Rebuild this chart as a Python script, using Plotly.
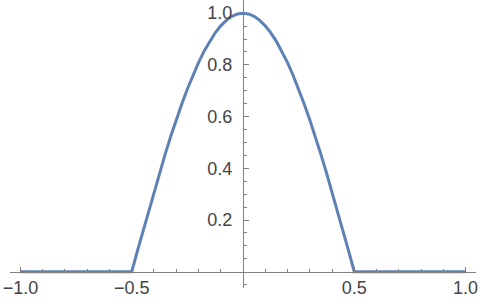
import plotly.graph_objects as go

# Data
x_vals = [-1.0, -0.5, -0.475, -0.45, -0.425, -0.4, -0.375, -0.35, -0.325, -0.3, -0.275,
          -0.25, -0.225, -0.2, -0.175, -0.15, -0.125, -0.1, -0.075, -0.05, -0.025, 0.0,
          0.025, 0.05, 0.075, 0.1, 0.125, 0.15, 0.175, 0.2, 0.225, 0.25, 0.275, 0.3,
          0.325, 0.35, 0.375, 0.4, 0.425, 0.45, 0.475, 0.5, 1.0]
y_vals = [0.0, 0.0, 0.079, 0.156, 0.233, 0.309, 0.383, 0.454, 0.523, 0.588, 0.649,
          0.707, 0.760, 0.809, 0.853, 0.891, 0.924, 0.951, 0.972, 0.988, 0.997, 1.0,
          0.997, 0.988, 0.972, 0.951, 0.924, 0.891, 0.853, 0.809, 0.760, 0.707, 0.649, 0.588,
          0.523, 0.454, 0.383, 0.309, 0.233, 0.156, 0.079, 0.0, 0.0]

x_major = [-1.0, -0.5, 0.5, 1.0]
x_major_labels = ["\u22121.0", "\u22120.5", "0.5", "1.0"]
x_minor = [-0.9, -0.8, -0.7, -0.6, -0.4, -0.3, -0.2, -0.1, 0.1, 0.2, 0.3, 0.4,
           0.6, 0.7, 0.8, 0.9]
y_major = [0.2, 0.4, 0.6, 0.8, 1.0]
y_major_labels = ["0.2", "0.4", "0.6", "0.8", "1.0"]
y_minor = [-0.05, 0.05, 0.1, 0.15, 0.25, 0.3, 0.35, 0.45, 0.5, 0.55, 0.65, 0.7,
           0.75, 0.85, 0.9, 0.95, 1.05]

axis_col = "#808080"
label_col = "#444444"
font_family = "Liberation Sans, Arial, sans-serif"

fig = go.Figure()
fig.add_trace(go.Scatter(x=x_vals, y=y_vals, mode="lines",
                         line=dict(color="#5E81B5", width=3), hoverinfo="skip"))

fig.update_layout(
    width=480, height=304,
    margin=dict(l=10, r=4, t=0, b=16),
    paper_bgcolor="white", plot_bgcolor="white",
    showlegend=False,
    xaxis=dict(
        range=[-1.047, 1.047], anchor="free", position=0.0566,
        showgrid=False, zeroline=False,
        showline=True, linecolor=axis_col, linewidth=1,
        tickmode="array", tickvals=x_major, ticktext=x_major_labels,
        ticks="inside", ticklen=5, tickcolor=axis_col, tickwidth=1,
        tickfont=dict(family=font_family, size=18, color=label_col),
        minor=dict(tickmode="array", tickvals=x_minor, ticks="inside",
                   ticklen=3, tickcolor=axis_col, showgrid=False),
        automargin=False,
    ),
    yaxis=dict(
        range=[-0.063, 1.051], anchor="free", position=0.5,
        showgrid=False, zeroline=False,
        showline=True, linecolor=axis_col, linewidth=1,
        tickmode="array", tickvals=y_major, ticktext=y_major_labels,
        ticks="inside", ticklen=5, tickcolor=axis_col, tickwidth=1,
        ticklabelstandoff=7,
        tickfont=dict(family=font_family, size=18, color=label_col),
        minor=dict(tickmode="array", tickvals=y_minor, ticks="inside",
                   ticklen=3, tickcolor=axis_col, showgrid=False),
        automargin=False,
    ),
)

fig.write_html("out.html")
